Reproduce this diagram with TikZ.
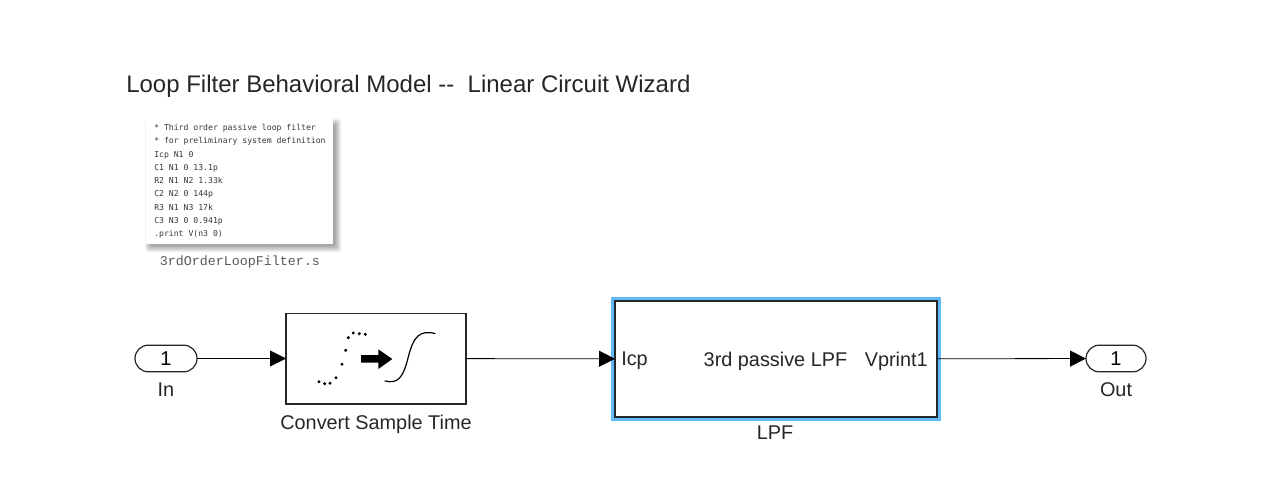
\documentclass[tikz,border=0pt]{standalone}
\usepackage{fontspec}
\setmainfont{Liberation Sans}
\newfontfamily\notefont{DejaVu Sans Mono}
\newfontfamily\filefont{Liberation Mono}
\usetikzlibrary{arrows.meta,shapes.misc,shadows}

\definecolor{selblue}{RGB}{95,185,250}
\definecolor{notegray}{RGB}{55,55,55}

\tikzset{
  wire/.style={draw=black, line width=.6pt, -{Triangle[length=12pt,width=12pt]}},
  blockbox/.style={draw=black!85, fill=white, line width=1pt, inner sep=0pt, outer sep=0pt,
    drop shadow={shadow xshift=.8pt,shadow yshift=-.8pt,opacity=.35}},
  portpill/.style={rounded rectangle, draw=black!85, fill=white, line width=.9pt, inner sep=0pt, outer sep=0pt,
    minimum height=20pt, font=\fontsize{15}{17}\selectfont},
  lbl/.style={font=\fontsize{14.9}{17}\selectfont, text=black!85, inner sep=0pt}
}

\begin{document}
\begin{tikzpicture}[x=.75pt,y=-.75pt]
\useasboundingbox (0,0) rectangle (1263,502);

% title and note
\node[anchor=west, inner sep=0pt, font=\fontsize{18}{21}\selectfont, text=black!85] (title) at (126,86)
  {Loop Filter Behavioral Model -{}-\ \ Linear Circuit Wizard};

\foreach \g in {7,6,...,1}
  \fill[black, opacity=.06, rounded corners=2pt] (146+6-\g,118+8-\g) rectangle (333+1+\g,244+1+\g);
\fill[white] (146,118) rectangle (333,244);
\node[anchor=north west, inner sep=0pt, align=left, text=notegray, font=\notefont\fontsize{6.1}{9.95}\selectfont] (note) at (154,124)
  {* Third order passive loop filter\\
   * for preliminary system definition\\
   Icp N1 0\\
   C1 N1 0 13.1p\\
   R2 N1 N2 1.33k\\
   C2 N2 0 144p\\
   R3 N1 N3 17k\\
   C3 N3 0 0.941p\\
   .print V(n3 0)};
\node[inner sep=0pt, text=black!65, font=\filefont\fontsize{10}{12}\selectfont] (notefile) at (240,262) {3rdOrderLoopFilter.s};

% blocks
\node[portpill, minimum width=46.5pt] (in) at (166,358.5) {1};
\node[lbl] (inname) at (166,390) {In};

\node[blockbox, minimum width=135pt, minimum height=68pt] (convert) at (376,358.5) {};
\node[lbl] (convertname) at (376,424) {Convert Sample Time};

\node[blockbox, minimum width=241.5pt, minimum height=87pt,
  preaction={draw=selblue, line width=6.5pt}] (lpf) at (776,359) {};
\node[lbl, anchor=west] (icp) at (621,361) {Icp};
\node[lbl] (lpfinner) at (775.5,361) {3rd passive LPF};
\node[lbl, anchor=east] (vprint) at (928,361) {Vprint1};
\node[lbl] (lpfname) at (775,433) {LPF};

\node[portpill, minimum width=45pt] (out) at (1116,358.5) {1};
\node[lbl] (outname) at (1116,390) {Out};

% icon of the convert block
\foreach \x/\y in {319/381.7,324.7/383.7,330/383.3,336/377.7,342/364.3,345.7/350.3,348.3/337.7,353.3/333,359.3/333.7,365.3/334.3}
  \fill[black] (\x,\y) circle (1.25pt);
\fill[black] (361,355) -- (378.3,355) -- (378.3,349.3) -- (392.3,359) -- (378.3,369) -- (378.3,362.5) -- (361,362.5) -- cycle;
\draw[black, line width=.9pt, line cap=round] (385,381) .. controls (398,384) and (403,378) .. (408.3,357) .. controls (413.5,336) and (420,330) .. (435,333.5);

% connectors
\draw[wire] (in) -- (convert);
\draw[wire] (convert) -- (lpf);
\draw[wire] (lpf) -- (out);

\end{tikzpicture}
\end{document}
